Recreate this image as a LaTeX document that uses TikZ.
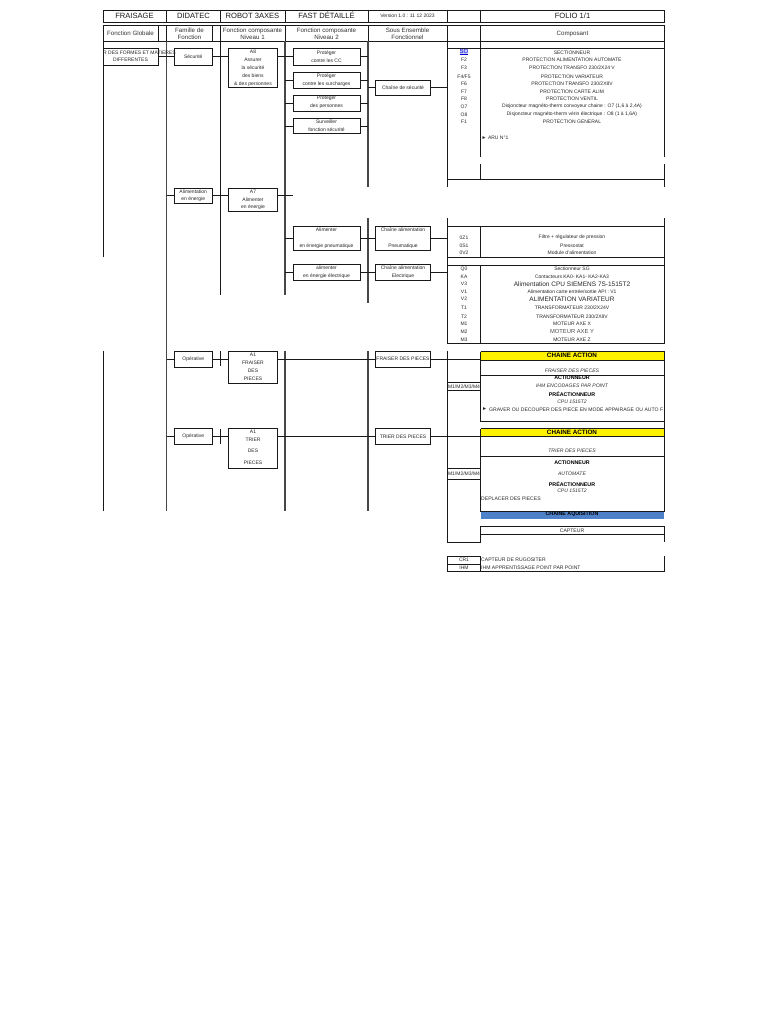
\documentclass[tikz,border=0pt]{standalone}
\usepackage{fontspec}
\setmainfont{Liberation Sans}
\newcounter{lblc}
\definecolor{acqblue}{RGB}{79,129,200}
\tikzset{
  rule/.style={line width=0.85pt,black!90},
  bus/.style={line width=1.05pt,black!72},
  boxn/.style={draw,line width=0.9pt,black!90,inner sep=0pt,fill=white},
  tiny/.style={inner sep=0pt,align=center,text=black!85,font=\fontsize{5}{7.8}\selectfont},
  small/.style={inner sep=0pt,text=black!85,font=\fontsize{5.1}{6}\selectfont},
  hdr/.style={inner sep=0pt,align=center,text=black!90,font=\fontsize{7.6}{9}\selectfont},
  sub/.style={inner sep=0pt,align=center,text=black!80,font=\fontsize{6.2}{7.4}\selectfont},
  bold/.style={inner sep=0pt,text=black,font=\fontsize{5.3}{6}\selectfont\bfseries},
  chain/.style={inner sep=0pt,text=black,font=\fontsize{6.3}{7}\selectfont\bfseries},
  ital/.style={inner sep=0pt,text=black!80,font=\fontsize{5.1}{6}\selectfont\itshape},
  big/.style={inner sep=0pt,text=black!85,font=\fontsize{6.5}{7}\selectfont},
}
% box: name, x1, y1, x2, y2, text centre y, text
\newcommand{\bx}[7]{%
  \node[boxn,minimum width={(#4-#2)*1pt},minimum height={(#5-#3)*1pt}] (#1) at ({(#2+#4)/2},{(#3+#5)/2}) {};
  \node[tiny] (#1t) at ({(#2+#4)/2},{#6+0.8}) {#7};}
\newcommand{\lb}[4][tiny]{\stepcounter{lblc}\node[#1] (l\thelblc) at (#2,{#3+0.5}) {#4};}
\newcommand{\lw}[4][small]{\stepcounter{lblc}\node[#1,anchor=west] (l\thelblc) at (#2,{#3+0.5}) {#4};}
\newcommand{\rw}[3]{\lb{464}{#1}{#2}\lb{572}{#1}{#3}}
\begin{document}
\begin{tikzpicture}[x=1pt,y=-1pt]
\useasboundingbox (0,0) rectangle (768,1024);
% filled bands
\fill[yellow] (480.5,351.5) rectangle (664.5,360);
\fill[yellow] (480.5,428.5) rectangle (664.5,436.5);
\fill[acqblue] (480.5,511) rectangle (664,518.5);
% bus coordinates
\coordinate (v166) at (166.5,0);
\coordinate (v220) at (220.5,0);
\coordinate (v285) at (285,0);
\coordinate (v368) at (368,0);
\coordinate (v447) at (447,0);
\coordinate (v480) at (480.5,0);
% header table
\draw[rule] (103,10) rectangle (664.5,22.5);
\foreach \x in {166.5,220.5,285,368,447,480.5} \draw[rule] (\x,10) -- (\x,22.5);
\draw[rule] (103,25.5) -- (664.5,25.5) (103,41) -- (664.5,41);
\foreach \x in {103,158,166.5,212.5,220.5,285,368,447,480.5,664.5} \draw[rule] (\x,25.5) -- (\x,41);
\draw[rule] (447,48.5) -- (664.5,48.5);
% vertical buses
\draw[rule] (103,41) -- (103,257);
\draw[rule] (103,351) -- (103,511);
\draw[bus] (166.5,41) -- (166.5,511);
\draw[rule] (220.5,41) -- (220.5,295);
\draw[rule] (220.5,351) -- (220.5,366);
\draw[rule] (220.5,429) -- (220.5,444);
\draw[bus] (285,41) -- (285,295);
\draw[bus] (285,351) -- (285,511);
\draw[bus] (368,41) -- (368,187);
\draw[bus] (368,218) -- (368,303);
\draw[bus] (368,351) -- (368,511);
% right-hand tables
\draw[rule] (447,41) -- (447,187);
\draw[rule] (480.5,41) -- (480.5,157) (480.5,164.5) -- (480.5,179);
\draw[rule] (664.5,41) -- (664.5,157) (664.5,164.5) -- (664.5,187);
\draw[rule] (447,179) -- (664.5,179);
\draw[rule] (447,218) -- (447,343.5) -- (664.5,343.5) -- (664.5,218);
\draw[rule] (447,226.5) -- (664.5,226.5);
\draw[rule] (447,257.5) -- (664.5,257.5) (447,265) -- (664.5,265);
\draw[rule] (480.5,226.5) -- (480.5,257.5) (480.5,265) -- (480.5,343.5);
\draw[rule] (447,351) -- (447,542) -- (480.5,542);
\draw[rule] (480.5,351.5) -- (664.5,351.5) -- (664.5,511);
\draw[rule] (480.5,351.5) -- (480.5,421) -- (664.5,421);
\draw[rule] (480.5,360) -- (664.5,360) (480.5,375) -- (664.5,375);
\draw[rule] (480.5,428.5) -- (664.5,428.5) (480.5,436.5) -- (664.5,436.5) (480.5,456.5) -- (664.5,456.5);
\draw[rule] (480.5,428.5) -- (480.5,511) -- (664.5,511);
\draw[rule] (447,382.5) -- (480.5,382.5) (447,390) -- (480.5,390);
\draw[rule] (447,468.5) -- (480.5,468.5) (447,479.5) -- (480.5,479.5);
\draw[rule] (480.5,542) -- (480.5,526.5) -- (664.5,526.5) -- (664.5,542);
\draw[rule] (480.5,534) -- (664.5,534);
\draw[rule] (447,556.5) -- (480.5,556.5) (447,564) -- (480.5,564);
\draw[rule] (447,556.5) -- (447,571.5) -- (664.5,571.5) -- (664.5,556);
\draw[rule] (480.5,556.5) -- (480.5,571.5);
% boxes
\bx{fg}{103}{48.5}{158}{65}{59}{DIFFERENTES}
\bx{sec}{174}{48.5}{212.5}{65}{55.5}{Sécurité}
\bx{a8}{228.5}{48.5}{277.5}{87.5}{67.5}{A8\\Assurer\\la sécurité\\des biens\\\& des personnes}
\bx{p1}{293}{48.5}{360}{65}{55.5}{Protéger\\contre les CC}
\bx{p2}{293}{72}{360}{88}{79}{Protéger\\contre les surcharges}
\bx{p3}{293}{95}{360}{111}{101.5}{Protéger\\des personnes}
\bx{p4}{293}{118.5}{360}{133.5}{125}{Surveiller\\fonction sécurité}
\bx{cs}{375.5}{80}{430.5}{95.5}{86.5}{Chaîne de sécurité}
\bx{al}{174}{188}{212.5}{203.5}{195}{Alimentation\\en énergie}
\bx{a7}{228.5}{188}{277.5}{211.5}{199}{A7\\Alimenter\\en énergie}
\bx{pn}{293}{226.5}{360}{250}{237.5}{Alimenter\\\\en énergie pneumatique}
\bx{cp}{375.5}{226.5}{430.5}{250}{237.5}{Chaîne alimentation\\\\Pneumatique}
\bx{el}{293}{264.5}{360}{280}{271.5}{alimenter\\en énergie électrique}
\bx{ce}{375.5}{264.5}{430.5}{280}{271.5}{Chaîne alimentation\\Electrique}
\bx{o1}{174}{351.5}{212.5}{367}{358}{Opérative}
\bx{a1}{228.5}{351.5}{277.5}{383}{366}{A1\\FRAISER\\DES\\PIECES}
\bx{fr}{375.5}{351.5}{430.5}{367}{358}{FRAISER DES PIECES}
\bx{o2}{174}{428.5}{212.5}{444.5}{435.5}{Opérative}
\bx{a1b}{228.5}{428.5}{277.5}{468.5}{447}{A1\\TRIER\\[3.2pt]DES\\[4.4pt]PIECES}
\bx{tr}{375.5}{428.5}{430.5}{444.5}{435.5}{TRIER DES PIECES}
% overflow text of the first box
\node[tiny,anchor=west] (fgt2) at (103,52.5) {R DES FORMES ET MATIERES};
% connectors
\draw[rule] (fg.east) -- (sec.west);
\draw[rule] (sec.east) -- (a8.west|-sec.east);
\draw[rule] (a8.east|-p1.west) -- (p1.west);
\foreach \n in {p2,p3,p4} \draw[rule] (\n.west -| v285) -- (\n.west);
\foreach \n in {p1,p2,p3,p4} \draw[rule] (\n.east) -- (\n.east -| v368);
\draw[rule] (v368 |- cs.west) -- (cs.west);
\draw[rule] (cs.east) -- (cs.east -| v447);
\draw[rule] (al.west -| v166) -- (al.west);
\draw[rule] (al.east) -- (a7.west |- al.east);
\draw[rule] (a7.east |- al.east) -- (p1.west |- al.east);
\draw[rule] (pn.west -| v285) -- (pn.west);
\draw[rule] (pn.east) -- (cp.west);
\draw[rule] (cp.east) -- (cp.east -| v447);
\draw[rule] (el.west -| v285) -- (el.west);
\draw[rule] (el.east) -- (ce.west);
\draw[rule] (ce.east) -- (ce.east -| v447);
\draw[rule] (o1.west -| v166) -- (o1.west);
\draw[rule] (o1.east) -- (a1.west |- o1.east);
\draw[rule] (a1.east |- fr.west) -- (fr.west);
\draw[rule] (fr.east) -- (fr.east -| v480);
\draw[rule] (o2.west -| v166) -- (o2.west);
\draw[rule] (o2.east) -- (a1b.west |- o2.east);
\draw[rule] (a1b.east |- tr.west) -- (tr.west);
\draw[rule] (tr.east) -- (tr.east -| v480);
% headers
\lb[hdr]{134.5}{15.7}{FRAISAGE}
\lb[hdr]{193.5}{15.7}{DIDATEC}
\lb[hdr]{252.5}{15.7}{ROBOT 3AXES}
\lb[hdr]{326.5}{15}{FAST DÉTAILLÉ}
\lb{407.5}{15.7}{Version 1.0 : 11 12 2023}
\lb[hdr]{572.5}{15.7}{FOLIO 1/1}
\lb[sub]{130.5}{33}{Fonction Globale}
\lb[sub]{189.5}{33}{Famille de\\Fonction}
\lb[sub]{252.5}{33}{Fonction composante\\Niveau 1}
\lb[sub]{326.5}{33}{Fonction composante\\Niveau 2}
\lb[sub]{407.5}{33}{Sous Ensemble\\Fonctionnel}
\lb[sub]{572.5}{33}{Composant}
% components 1
\node[inner sep=0pt,fill=blue!20,text=blue!80!black,font=\fontsize{6}{7}\selectfont] (so) at (464,52) {\underline{SO}};
\lb{572}{52.3}{SECTIONNEUR}
\rw{59.5}{F2}{PROTECTION ALIMENTATION AUTOMATE}
\rw{67.5}{F3}{PROTECTION TRANSFO 230/2X24 V}
\rw{76}{F4/F5}{PROTECTION VARIATEUR}
\rw{83}{F6}{PROTECTION TRANSFO 230/2X8V}
\rw{91}{F7}{PROTECTION CARTE ALIM}
\rw{98}{F8}{PROTECTION VENTIL}
\rw{106}{O7}{Disjoncteur magnéto-therm convoyeur chaine : O7 (1,6 à 2,4A)}
\rw{114}{O8}{Disjoncteur magnéto-therm vérin électrique : O8 (1 à 1,6A)}
\rw{121}{F1}{PROTECTION GENERAL}
\lw[tiny]{481.5}{137.5}{► ARU N°1}
% components 2
\rw{237}{0Z1}{Filtre + régulateur de pression}
\rw{245}{0S1}{Pressostat}
\rw{252.5}{0V2}{Module d'alimentation}
\rw{268.5}{Q0}{Sectionneur SG}
\rw{276}{KA}{Contacteurs KA0- KA1- KA2-KA3}
\lb{464}{283.5}{V3}\lb[big]{572}{283.5}{Alimentation CPU SIEMENS 7S-1515T2}
\rw{291}{V1}{Alimentation carte entrée/sortie API : V1}
\lb{464}{298.5}{V2}\lb[big]{572}{298.5}{ALIMENTATION VARIATEUR}
\rw{307.5}{T1}{TRANSFORMATEUR 230/2X24V}
\rw{316}{T2}{TRANSFORMATEUR 230/2X8V}
\rw{323.5}{M1}{MOTEUR AXE X}
\lb{464}{331}{M2}\lb[inner sep=0pt,text=black!70,font=\fontsize{5.8}{7}\selectfont]{572}{331}{MOTEUR AXE Y}
\rw{339.5}{M3}{MOTEUR AXE Z}
% chain 1
\lb[chain]{572}{355}{CHAINE ACTION}
\lb[ital]{572}{370.5}{FRAISER DES PIECES}
\lb[bold]{572}{377.5}{ACTIONNEUR}
\lb[ital]{572}{385.5}{IHM ENCODAGES PAR POINT}
\lb[bold]{572}{393.7}{PRÉACTIONNEUR}
\lb[ital]{572}{401}{CPU 1515T2}
\lw{482}{409}{►}
\lw{489}{409}{GRAVER OU DECOUPER DES PIECE EN MODE APPAIRAGE OU AUTO F}
\lb{464}{386.2}{M1/M2/M3/M4}
% chain 2
\lb[chain]{572}{432}{CHAINE ACTION}
\lb[ital]{572}{450}{TRIER DES PIECES}
\lb[bold]{572}{462.5}{ACTIONNEUR}
\lb[ital]{572}{473.5}{AUTOMATE}
\lb[bold]{572}{483.5}{PRÉACTIONNEUR}
\lb[ital]{572}{490.5}{CPU 1515T2}
\lw{481}{498.5}{DEPLACER DES PIECES}
\lb{464}{473.5}{M1/M2/M3/M4}
\lb[bold]{572}{514}{CHAINE AQUISITION}
\lb[small]{572}{530}{CAPTEUR}
\lb{464}{559.5}{CR1}
\lb{464}{567.2}{IHM}
\lw{481}{559.5}{CAPTEUR DE RUGOSITER}
\lw{481}{567.3}{IHM APPRENTISSAGE POINT PAR POINT}
\end{tikzpicture}
\end{document}
